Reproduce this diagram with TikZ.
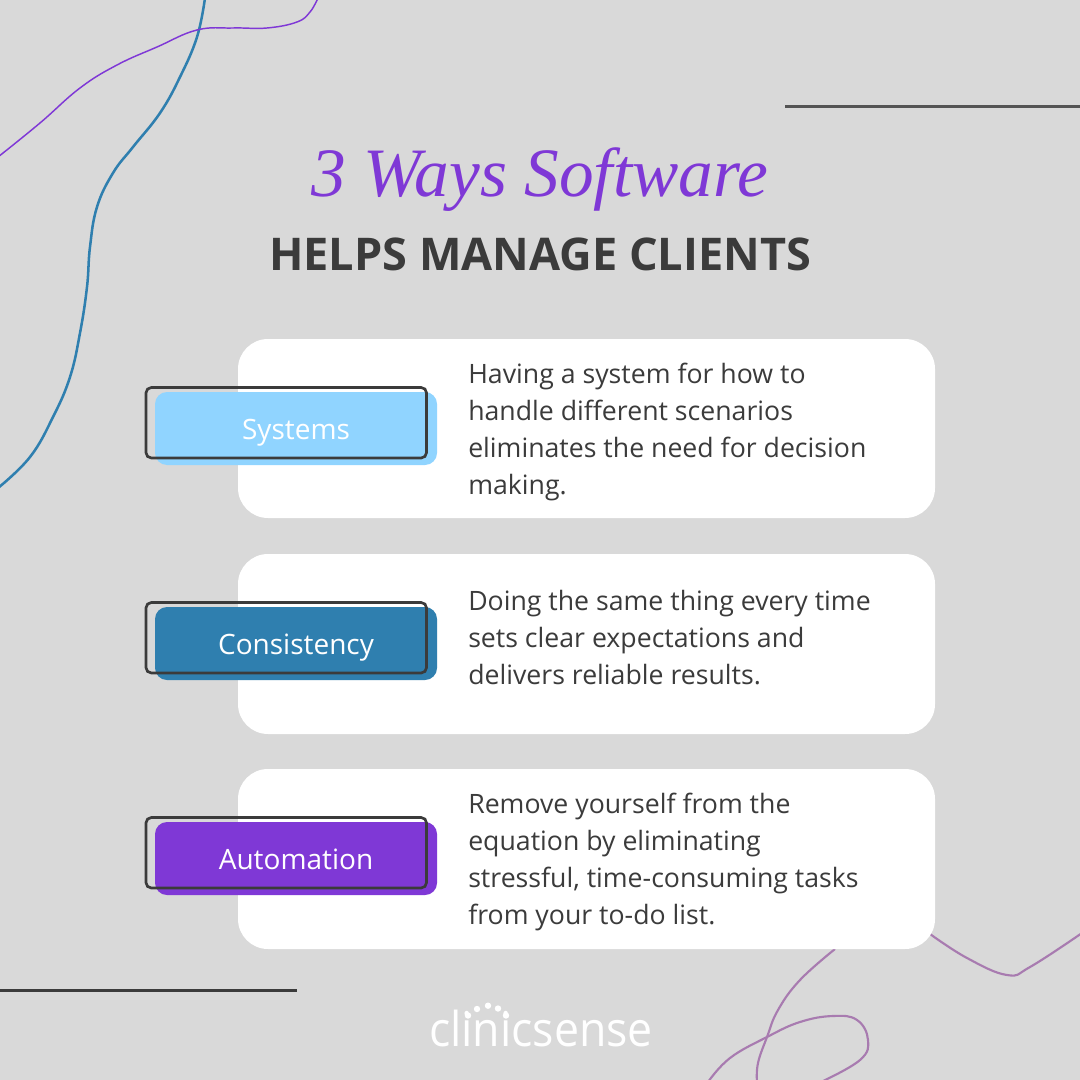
\documentclass[tikz,border=0pt]{standalone}
\usepackage{fontspec}
\setmainfont{Open Sans}
\newfontfamily\titlefont{Liberation Serif}
\usetikzlibrary{positioning}

\definecolor{pagegray}{HTML}{D9D9D9}
\definecolor{inkgray}{HTML}{3B3B3B}
\definecolor{rulegray}{HTML}{545454}
\definecolor{skyblue}{HTML}{90D4FF}
\definecolor{seablue}{HTML}{2F7FAF}
\definecolor{violet}{HTML}{7F38D6}
\definecolor{mauve}{HTML}{A87BB0}

\tikzset{
  card/.style={fill=white, rounded corners=22.5pt},
  tagfill/.style={rounded corners=9pt},
  tagframe/.style={draw=inkgray, line width=2pt, rounded corners=4pt},
  taglabel/.style={text=white, anchor=base, font=\fontsize{21}{26}\selectfont},
  bodytext/.style={text=inkgray, anchor=west, align=left, inner sep=0pt, font=\fontsize{20}{27.75}\selectfont},
  swirl/.style={mauve, line width=1.6pt},
}

\begin{document}
\begin{tikzpicture}[x=0.75pt, y=-0.75pt]
% Page
\fill[pagegray] (0,0) rectangle (1080,1080);
\useasboundingbox (0,0) rectangle (1080,1080);

% Curves top left
\draw[seablue, line width=1.9pt] plot[smooth, tension=0.7] coordinates {(205,-2) (197,37) (180,77) (160,113) (133,147) (113,173) (97,207) (90,247) (87,287) (80,333) (70,377) (53,417) (30,457) (-2,488)};
\draw[violet, line width=1.1pt] plot[smooth, tension=0.7] coordinates {(-2,157) (40,123) (80,88) (117,65) (157,47) (197,30) (233,28) (267,28) (297,22) (310,12) (318,-2)};

% Curves bottom right
\draw[swirl] plot[smooth, tension=0.7] coordinates {(930,934) (967,958) (1007,975) (1030,967) (1082,933)};
\draw[swirl] plot[smooth, tension=0.7] coordinates {(835,949) (800,980) (778,1010) (767,1037) (758,1063) (757,1082)};
\draw[swirl] plot[smooth, tension=0.7] coordinates {(708,1082) (730,1058) (767,1037) (800,1022) (833,1016) (857,1020) (868,1040) (860,1060) (821,1082)};

% Rules
\draw[rulegray, line width=2.2pt] (785,106.5) -- (1080,106.5);
\draw[inkgray, line width=2.2pt] (0,990.5) -- (297,990.5);

% Heading
\node[text=violet, font=\titlefont\itshape\fontsize{52}{52}\selectfont] (title) at (540,180) {3 Ways Software};
\node[text=inkgray, font=\bfseries\fontsize{33.8}{40}\selectfont] (subtitle) at (540,254) {HELPS MANAGE CLIENTS};

% Cards
\fill[card] (238,339) rectangle (935,518);
\fill[card] (238,554) rectangle (935,734);
\fill[card] (238,769) rectangle (935,949);

% Systems
\fill[tagfill, skyblue] (155,392) rectangle (437,465);
\draw[tagframe] (146,387.5) rectangle (426.5,458);
\node[taglabel] (systems) at (296,439) {Systems};
\node[bodytext] (systemstext) at (468,432) {Having a system for how to\\handle different scenarios\\eliminates the need for decision\\making.};

% Consistency
\fill[tagfill, seablue] (155,607) rectangle (437,680);
\draw[tagframe] (146,602.5) rectangle (426.5,673);
\node[taglabel] (consistency) at (296,654) {Consistency};
\node[bodytext] (consistencytext) at (468,638) {Doing the same thing every time\\sets clear expectations and\\delivers reliable results.};

% Automation
\fill[tagfill, violet] (155,822) rectangle (437,895);
\draw[tagframe] (146,817.5) rectangle (426.5,888);
\node[taglabel] (automation) at (296,869) {Automation};
\node[bodytext] (automationtext) at (468,862) {Remove yourself from the\\equation by eliminating\\stressful, time-consuming tasks\\from your to-do list.};

% Logo
\node[text=white, xscale=0.93, anchor=base, font=\fontsize{36}{36}\selectfont] (logo) at (541,1046) {clinicsense};
\fill[white] (468,1015.5) circle (3.2);
\fill[white] (477,1009) circle (3.2);
\fill[white] (488,1005.7) circle (3.2);
\fill[white] (498,1008.5) circle (3.2);
\fill[white] (506,1015.5) circle (3.2);
\end{tikzpicture}
\end{document}
